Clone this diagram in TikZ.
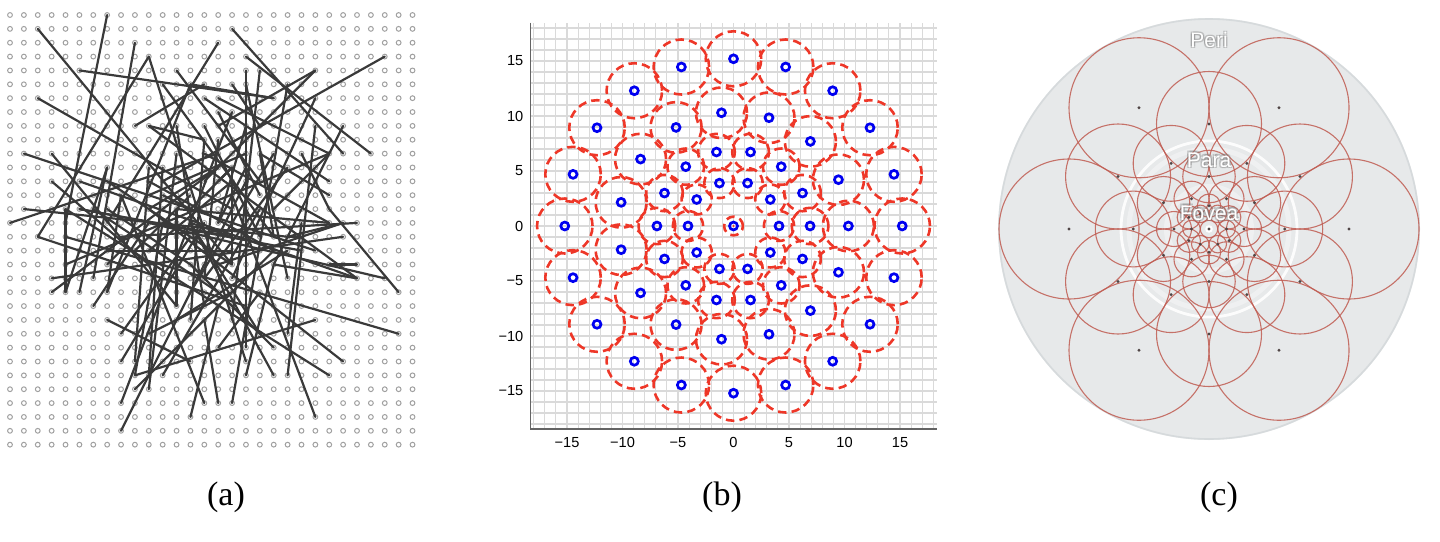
\documentclass[tikz,border=0pt]{standalone}
\usepackage{fontspec}
\setmainfont{Liberation Serif}
\setsansfont{Liberation Sans}
\definecolor{lineA}{RGB}{58,58,58}
\definecolor{dotA}{RGB}{160,160,160}
\definecolor{gridB}{RGB}{218,218,218}
\definecolor{axisB}{RGB}{100,100,100}
\definecolor{redB}{RGB}{238,55,40}
\definecolor{blueB}{RGB}{0,0,240}
\definecolor{diskC}{RGB}{231,233,234}
\definecolor{edgeC}{RGB}{214,218,220}
\definecolor{ringC}{RGB}{192,92,82}
\definecolor{dotC}{RGB}{80,70,70}
\tikzset{
  gridpt/.style={draw=dotA, line width=0.5pt},
  randline/.style={draw=lineA, line width=1.1pt, line cap=round},
  gridline/.style={draw=gridB, line width=0.55pt},
  axisline/.style={draw=axisB, line width=0.6pt},
  ticklabel/.style={font=\sffamily\fontsize{7.3}{8}\selectfont, text=black, inner sep=0pt},
  fieldB/.style={draw=redB, line width=1.3pt, dash pattern=on 4.2pt off 2.6pt},
  sampleB/.style={draw=blueB, line width=1.35pt},
  fieldC/.style={draw=ringC, line width=0.55pt, draw opacity=0.85},
  centreC/.style={fill=dotC},
  zoneC/.style={font=\sffamily\fontsize{10.5}{12}\selectfont, text=white, inner sep=0pt},
  zoneshadow/.style={font=\sffamily\fontsize{10.5}{12}\selectfont, text=black!55, text opacity=0.35, inner sep=0pt},
  caption/.style={font=\fontsize{17}{20}\selectfont, inner sep=0pt}
}
\begin{document}
\begin{tikzpicture}[x=0.5pt,y=-0.5pt]
\useasboundingbox (0,0) rectangle (1440,541);
% ---------------- (a) ----------------
\foreach \c in {0,...,29}{
  \foreach \r in {0,...,31}{
    \path[gridpt] ({10+13.88*\c},{15+13.86*\r}) circle[radius=2.4];
  }
}
\pgfmathsetseed{4242}
\foreach \i in {1,...,115}{
  \pgfmathtruncatemacro\ca{max(0,min(29,round(14.5+15*(rnd+rnd-1))))}
  \pgfmathtruncatemacro\ra{max(0,min(31,round(15.5+16*(rnd+rnd-1))))}
  \pgfmathtruncatemacro\cb{max(0,min(29,round(14.5+15*(rnd+rnd-1))))}
  \pgfmathtruncatemacro\rb{max(0,min(31,round(15.5+16*(rnd+rnd-1))))}
  \path[randline] ({10+13.88*\ca},{15+13.86*\ra}) -- ({10+13.88*\cb},{15+13.86*\rb});
}
% ---------------- (b) ----------------
\begin{scope}[shift={(733.5,226)}]
\begin{scope}[x=5.55pt,y=5.5pt]
\foreach \g in {-18,...,18}{
  \path[gridline] (\g,-18.45) -- (\g,18.5);
  \path[gridline] (-18.3,\g) -- (18.3,\g);
}
\path[axisline] (-18.3,18.5) -- (-18.3,-18.45) -- (18.3,-18.45);
\foreach \t/\l [count=\k] in {-15/−15,-10/−10,-5/−5,0/0,5/5,10/10,15/15}{
  \node[ticklabel, anchor=east] (ty\k) at (-18.9,\t) {\l};
  \node[ticklabel, anchor=north] (tx\k) at (\t,-19.2) {\l};
}
\path[fieldB] (0,0) circle[radius=0.85];
\foreach \rr/\n/\s in {4.1/10/1.36,6.9/14/1.65,10.35/15/2.3,15.2/20/2.5}{
  \foreach \j in {1,...,\n}{
    \path[fieldB] ({\rr*cos(360*\j/\n)},{\rr*sin(360*\j/\n)}) circle[radius=\s];
  }
}
\path[sampleB] (0,0) circle[radius=0.36];
\fill[redB] (0,0) circle[radius=0.1];
\foreach \rr/\n in {4.1/10,6.9/14,10.35/15,15.2/20}{
  \foreach \j in {1,...,\n}{
    \path[sampleB] ({\rr*cos(360*\j/\n)},{\rr*sin(360*\j/\n)}) circle[radius=0.36];
  }
}
\end{scope}
\end{scope}
% ---------------- (c) ----------------
\begin{scope}[shift={(1209,229)}]
\fill[diskC] (0,0) circle[radius=211];
\draw[edgeC, line width=0.8pt] (0,0) circle[radius=210];
\draw[white, line width=2.5pt, opacity=0.35] (0,0) circle[radius=80];
\draw[white, line width=1.4pt, opacity=0.9] (0,0) circle[radius=88];
\draw[white, line width=3pt, opacity=0.35] (0,0) circle[radius=42];
\foreach \r/\s/\o in {140/70/0,105/52.5/30,75.8/37.9/0,52.5/26.25/30,35/17.5/0,23.3/11.67/30,17.5/8.75/0}{
  \foreach \j in {0,...,5}{
    \path[fieldC] ({\r*cos(60*\j+\o)},{\r*sin(60*\j+\o)}) circle[radius=\s];
    \path[centreC] ({\r*cos(60*\j+\o)},{\r*sin(60*\j+\o)}) circle[radius=1.6];
  }
}
\path[fieldC] (0,0) circle[radius=8.75];
\fill[white] (0,0) circle[radius=3.8];
\fill[dotC] (0,0) circle[radius=1.6];
\foreach \dx/\dy [count=\m] in {1.2/1.2,-1.2/1.2,1.2/-1.2,-1.2/-1.2}{
  \node[zoneshadow] (perish\m) at (\dx,-189+\dy) {Peri};
  \node[zoneshadow] (parash\m) at (\dx,-69+\dy) {Para};
  \node[zoneshadow] (foveash\m) at (\dx,-16+\dy) {Fovea};
}
\node[zoneC] (peri) at (0,-189) {Peri};
\node[zoneC] (para) at (0,-69) {Para};
\node[zoneC] (fovea) at (0,-16) {Fovea};
\end{scope}
% ---------------- captions ----------------
\node[caption] (capa) at (226,497) {(a)};
\node[caption] (capb) at (722,497) {(b)};
\node[caption] (capc) at (1219,497) {(c)};
\end{tikzpicture}
\end{document}
